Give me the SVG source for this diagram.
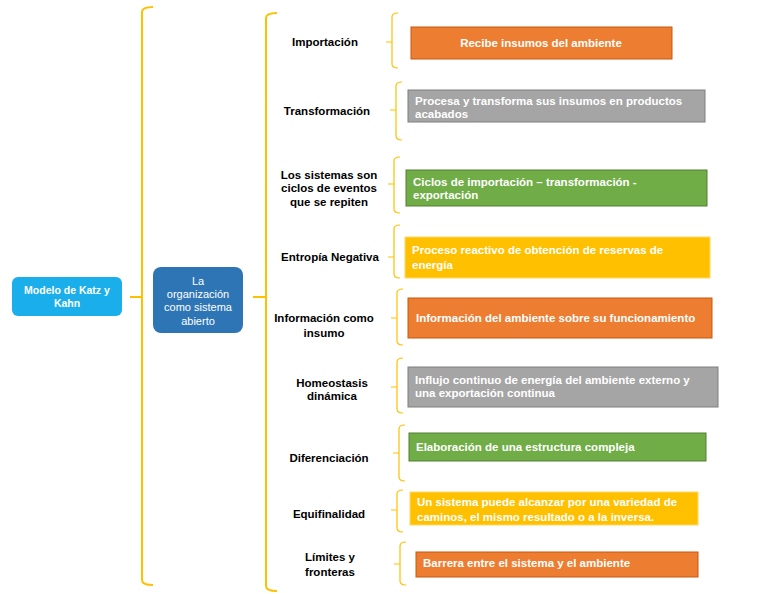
<svg xmlns="http://www.w3.org/2000/svg" width="768" height="594" viewBox="0 0 768 594">
<style>
.lbl{font-family:"Liberation Sans",Arial,sans-serif;font-weight:bold;font-size:11.5px;fill:#000;text-anchor:middle}
.bt{font-family:"Liberation Sans",Arial,sans-serif;font-weight:bold;font-size:11.5px;fill:#fff}
.big{fill:none;stroke:#FFC000;stroke-width:2}
.sm{fill:none;stroke:#FFC000;stroke-width:1.2}
.or{fill:#ED7D31;stroke:#C55A11;stroke-width:1}
.gr{fill:#A5A5A5;stroke:#7F7F7F;stroke-width:1}
.gn{fill:#70AD47;stroke:#507E32;stroke-width:1}
.ye{fill:#FFC000;stroke:#FFD966;stroke-width:1}
</style>
<rect width="768" height="594" fill="#fff"/>
<g id="connectors">
<path class="big" d="M153,7 Q142,7 142,12 V580 Q142,585 153,585 M142,297 H130"/>
<path class="big" d="M277,13 Q266,13 266,18 V586 Q266,591 277,591 M266,297 H253"/>
<path class="sm" d="M398,13 Q392,13 392,17 V64 Q392,68 398,68 M392,42 H386"/>
<path class="sm" d="M402,82 Q396,82 396,86 V136 Q396,140 402,140 M396,110 H390"/>
<path class="sm" d="M400,157 Q394,157 394,161 V209 Q394,213 400,213 M394,184 H388"/>
<path class="sm" d="M400,225 Q394,225 394,229 V274 Q394,278 400,278 M394,257 H388"/>
<path class="sm" d="M403,289 Q397,289 397,293 V341 Q397,345 403,345 M397,318 H391"/>
<path class="sm" d="M403,358 Q397,358 397,362 V409 Q397,413 403,413 M397,387 H391"/>
<path class="sm" d="M405,425 Q399,425 399,429 V477 Q399,481 405,481 M399,453 H393"/>
<path class="sm" d="M403,490 Q397,490 397,494 V528 Q397,532 403,532 M397,510 H391"/>
<path class="sm" d="M406,542 Q400,542 400,546 V581 Q400,585 406,585 M400,564 H394"/>
</g>
<g id="katz">
<rect x="12" y="277" width="110" height="39" rx="6" fill="#1AAEEA"/>
<text x="67" y="294" text-anchor="middle" font-family="Liberation Sans, Arial, sans-serif" font-weight="bold" font-size="10.5" fill="#fff">Modelo de Katz y</text>
<text x="67" y="307" text-anchor="middle" font-family="Liberation Sans, Arial, sans-serif" font-weight="bold" font-size="10.5" fill="#fff">Kahn</text>
</g>
<g id="organizacion">
<rect x="153" y="267" width="90" height="66" rx="8" fill="#2E75B6"/>
<g font-family="Liberation Sans, Arial, sans-serif" font-size="11" fill="#fff" text-anchor="middle">
<text x="198" y="285">La</text>
<text x="198" y="298">organización</text>
<text x="198" y="311">como sistema</text>
<text x="198" y="325">abierto</text>
</g>
</g>
<g id="importacion">
<text class="lbl" x="325" y="46">Importación</text>
<rect class="or" x="411" y="27" width="261" height="32"/>
<text class="bt" x="541" y="47" text-anchor="middle">Recibe insumos del ambiente</text>
</g>
<g id="transformacion">
<text class="lbl" x="327" y="115">Transformación</text>
<rect class="gr" x="408" y="90" width="297" height="32"/>
<text class="bt" x="415" y="105">Procesa y transforma sus insumos en productos</text>
<text class="bt" x="415" y="118">acabados</text>
</g>
<g id="ciclos">
<text class="lbl" x="329" y="179">Los sistemas son</text>
<text class="lbl" x="329" y="192">ciclos de eventos</text>
<text class="lbl" x="329" y="206">que se repiten</text>
<rect class="gn" x="406" y="170" width="301" height="36"/>
<text class="bt" x="413" y="186">Ciclos de importación – transformación -</text>
<text class="bt" x="413" y="199">exportación</text>
</g>
<g id="entropia">
<text class="lbl" x="330" y="261">Entropía Negativa</text>
<rect class="ye" x="405" y="237" width="305" height="41"/>
<text class="bt" x="412" y="254">Proceso reactivo de obtención de reservas de</text>
<text class="bt" x="412" y="269">energía</text>
</g>
<g id="informacion">
<text class="lbl" x="324" y="322">Información como</text>
<text class="lbl" x="324" y="337">insumo</text>
<rect class="or" x="408" y="298" width="304" height="40"/>
<text class="bt" x="416" y="322">Información del ambiente sobre su funcionamiento</text>
</g>
<g id="homeostasis">
<text class="lbl" x="332" y="387">Homeostasis</text>
<text class="lbl" x="332" y="400">dinámica</text>
<rect class="gr" x="408" y="367" width="310" height="40"/>
<text class="bt" x="415" y="384">Influjo continuo de energía del ambiente externo y</text>
<text class="bt" x="415" y="397">una exportación continua</text>
</g>
<g id="diferenciacion">
<text class="lbl" x="329" y="462">Diferenciación</text>
<rect class="gn" x="409" y="433" width="297" height="28"/>
<text class="bt" x="416" y="451">Elaboración de una estructura compleja</text>
</g>
<g id="equifinalidad">
<text class="lbl" x="329" y="518">Equifinalidad</text>
<rect class="ye" x="410" y="492" width="288" height="33"/>
<text class="bt" x="417" y="506">Un sistema puede alcanzar por una variedad de</text>
<text class="bt" x="417" y="521">caminos, el mismo resultado o a la inversa.</text>
</g>
<g id="limites">
<text class="lbl" x="330" y="561">Límites y</text>
<text class="lbl" x="330" y="576">fronteras</text>
<rect class="or" x="416" y="552" width="282" height="25"/>
<text class="bt" x="423" y="567">Barrera entre el sistema y el ambiente</text>
</g>
</svg>
